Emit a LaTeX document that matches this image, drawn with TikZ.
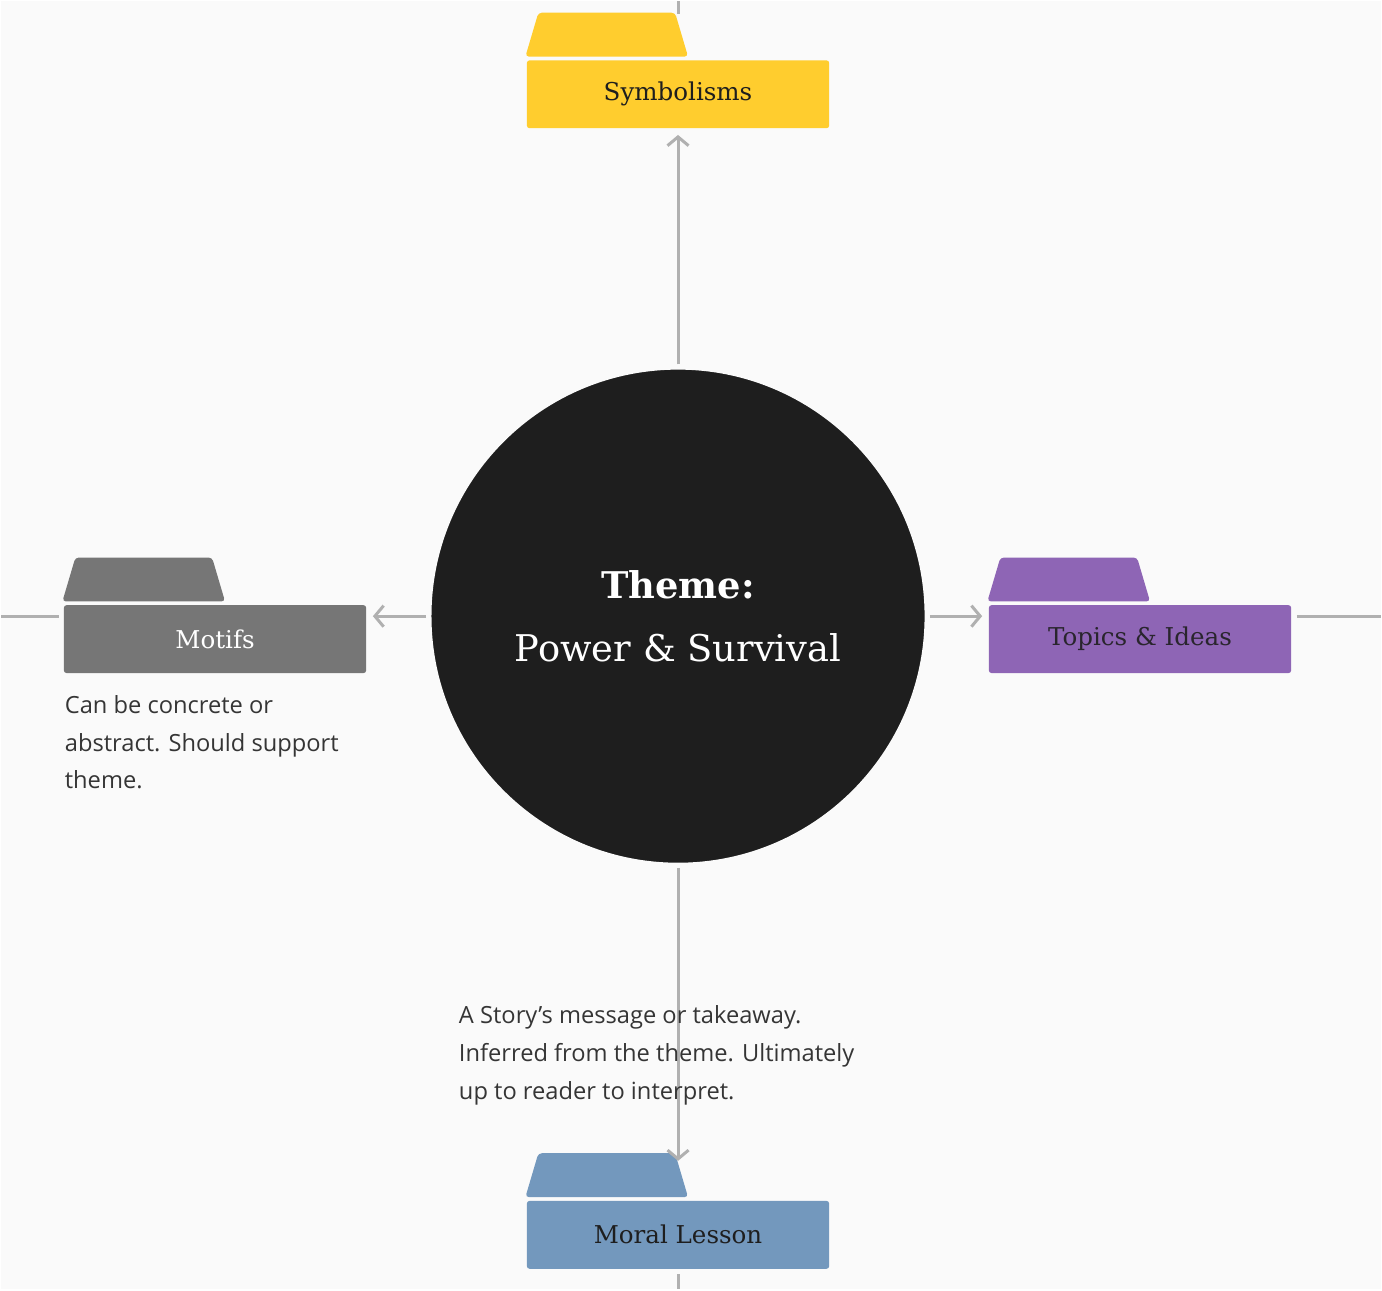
\documentclass[tikz,border=0pt]{standalone}
\usepackage{fontspec}
\setmainfont{DejaVu Serif}
\newfontfamily\notefont{Open Sans}
\usetikzlibrary{arrows.meta,positioning}
\definecolor{bgcol}{HTML}{FAFAFA}
\definecolor{linecol}{HTML}{B0B0B0}
\definecolor{yellowcol}{HTML}{FFCD2E}
\definecolor{graycol}{HTML}{767676}
\definecolor{purplecol}{HTML}{8E65B5}
\definecolor{bluecol}{HTML}{7398BD}
\definecolor{darkcol}{HTML}{1E1E1E}
\begin{document}
\begin{tikzpicture}[x=0.02cm, y=-0.02cm, line width=1.7pt]
			\tikzstyle{folder} = [rectangle, rounded corners=1.5pt, minimum width=6.06cm, minimum height=1.36cm, inner sep=0pt, font=\fontsize{14}{17}\selectfont]
			\tikzstyle{link}   = [draw=linecol, -{Straight Barb[length=5pt, width=12pt]}]
			\tikzstyle{line}   = [draw=linecol]
			\tikzstyle{note}   = [align=left, anchor=north west, inner sep=0pt, text=darkcol!90, font=\notefont\fontsize{13.5}{21.5}\selectfont]

			\fill[bgcol] (0,0) rectangle (1382,1290);

			\node[circle, fill=darkcol, draw=bgcol, line width=1pt, minimum size=9.92cm, inner sep=0pt, align=center, text=white, font=\fontsize{21}{36}\selectfont] (theme) at (678, 616)
				{\textbf{Theme:}\\Power \& Survival};

			% folders: name / centre / colour / text colour / label
			\foreach \name/\x/\y/\col/\tcol/\label in {sym/678/93/yellowcol/darkcol/Symbolisms, mot/214/639/graycol/white/Motifs, top/1141/639/purplecol/darkcol!90!purplecol/Topics \& Ideas, mor/678/1236/bluecol/darkcol/Moral Lesson} {
				\node[folder, fill=\col, text=\tcol] (\name) at (\x, \y) {\label};
				\fill[\col, rounded corners=2pt] ([yshift=1.3pt]\name.north west) -- ++(13,-44) -- ++(137,0) -- ++(13,44) -- cycle;
			}

			\coordinate (symout) at (678, 0);
			\coordinate (motout) at (0, 616);
			\coordinate (topout) at (1382, 616);
			\coordinate (morout) at (678, 1290);

			\draw[line] (symout) -- (678, 13);
			\draw[line] (motout) -- (58, 616);
			\draw[line] ([xshift=2.4pt]top.east |- topout) -- (topout);
			\draw[line] ([yshift=-2.4pt]mor.south) -- (morout);

			\draw[link, shorten <=2pt, shorten >=3pt] (theme.north) -- (sym.south);
			\draw[link, shorten <=2pt, shorten >=3pt] (theme.west) -- (mot.east |- theme.west);
			\draw[link, shorten <=2pt, shorten >=3pt] (theme.east) -- (top.west |- theme.east);
			\draw[link, shorten <=2pt, shorten >=22pt] (theme.south) -- (mor.north);

			\node[note] (motnote) at (62, 694) {Can be concrete or\\abstract. Should support\\theme.};
			\node[note] (mornote) at (457, 1005) {A Story’s message or takeaway.\\Inferred from the theme. Ultimately\\up to reader to interpret.};
		\end{tikzpicture}
\end{document}
